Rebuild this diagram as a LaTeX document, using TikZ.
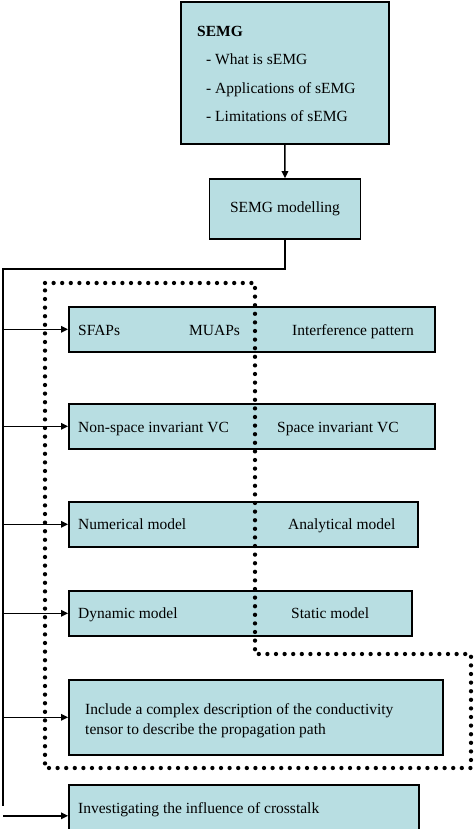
\documentclass[tikz,border=0pt]{standalone}
\usepackage{fontspec}
\setmainfont{Liberation Serif}
\usetikzlibrary{positioning,arrows.meta}
\definecolor{boxfill}{RGB}{184,222,226}
\tikzset{
  blk/.style={draw=black,line width=1.6pt,fill=boxfill,inner sep=0pt,anchor=north west},
  lbl/.style={anchor=base west,inner sep=0pt,font=\fontsize{15.5}{20}\selectfont},
  feed/.style={-{Triangle[length=7pt,width=6.5pt]},line width=1.5pt},
  trunk/.style={line width=1.6pt},
  dotbox/.style={line width=4.3pt,line cap=round,dash pattern=on 0pt off 8.6pt},
}
\begin{document}
\begin{tikzpicture}[x=1pt,y=-1pt]
  \useasboundingbox (0,0) rectangle (474,829);
  \clip (0,0) rectangle (474,829);
  % top box and modelling box
  \node[blk,minimum width=208pt,minimum height=142pt] (semg) at (180,1) {};
  \node[lbl,font=\fontsize{15.5}{20}\selectfont\bfseries] (semgT) at (197,37) {SEMG};
  \node[lbl] (semgA) at (206,65) {- What is sEMG};
  \node[lbl] (semgB) at (206,94) {- Applications of sEMG};
  \node[lbl] (semgC) at (206,122) {- Limitations of sEMG};
  \node[blk,anchor=center,minimum width=151pt,minimum height=60pt,
        font=\fontsize{15.5}{20}\selectfont] (model) at (285,209) {SEMG modelling};
  \draw[feed] (semg.south) -- (model.north);
  % model rows
  \node[blk,minimum width=366pt,minimum height=45pt] (sig) at (68,306) {};
  \node[blk,minimum width=366pt,minimum height=45pt] (vc) at (68,403) {};
  \node[blk,minimum width=349pt,minimum height=45pt] (num) at (68,501) {};
  \node[blk,minimum width=343pt,minimum height=45pt] (dyn) at (68,590) {};
  \node[blk,minimum width=374pt,minimum height=75pt] (cond) at (68,679) {};
  \node[blk,minimum width=350pt,minimum height=62pt] (xtalk) at (68,784) {};
  \node[lbl] (sigA) at (78,335) {SFAPs};
  \node[lbl] (sigB) at (189,335) {MUAPs};
  \node[lbl] (sigC) at (292,335) {Interference pattern};
  \node[lbl] (vcA) at (78,432) {Non-space invariant VC};
  \node[lbl] (vcB) at (277,432) {Space invariant VC};
  \node[lbl] (numA) at (78,529) {Numerical model};
  \node[lbl] (numB) at (288,529) {Analytical model};
  \node[lbl] (dynA) at (78,618) {Dynamic model};
  \node[lbl] (dynB) at (291,618) {Static model};
  \node[lbl,align=left,anchor=north west] (condT) at (85,703)
    {Include a complex description of the conductivity\\tensor to describe the propagation path};
  \node[lbl] (xtalkT) at (78,813) {Investigating the influence of crosstalk};
  % trunk from the modelling box
  \coordinate (turn) at (3,269);
  \draw[trunk] (model.south) |- (turn) -- (3,806);
  \foreach \b in {sig,vc,num,dyn,cond,xtalk}{
    \draw[feed] (turn |- \b.west) -- (\b.west);
  }
  % dotted frame
  \draw[dotbox] (45,283) -- (255,283) -- (255,654) -- (471,654) -- (471,768) -- (45,768) -- cycle;
\end{tikzpicture}
\end{document}
